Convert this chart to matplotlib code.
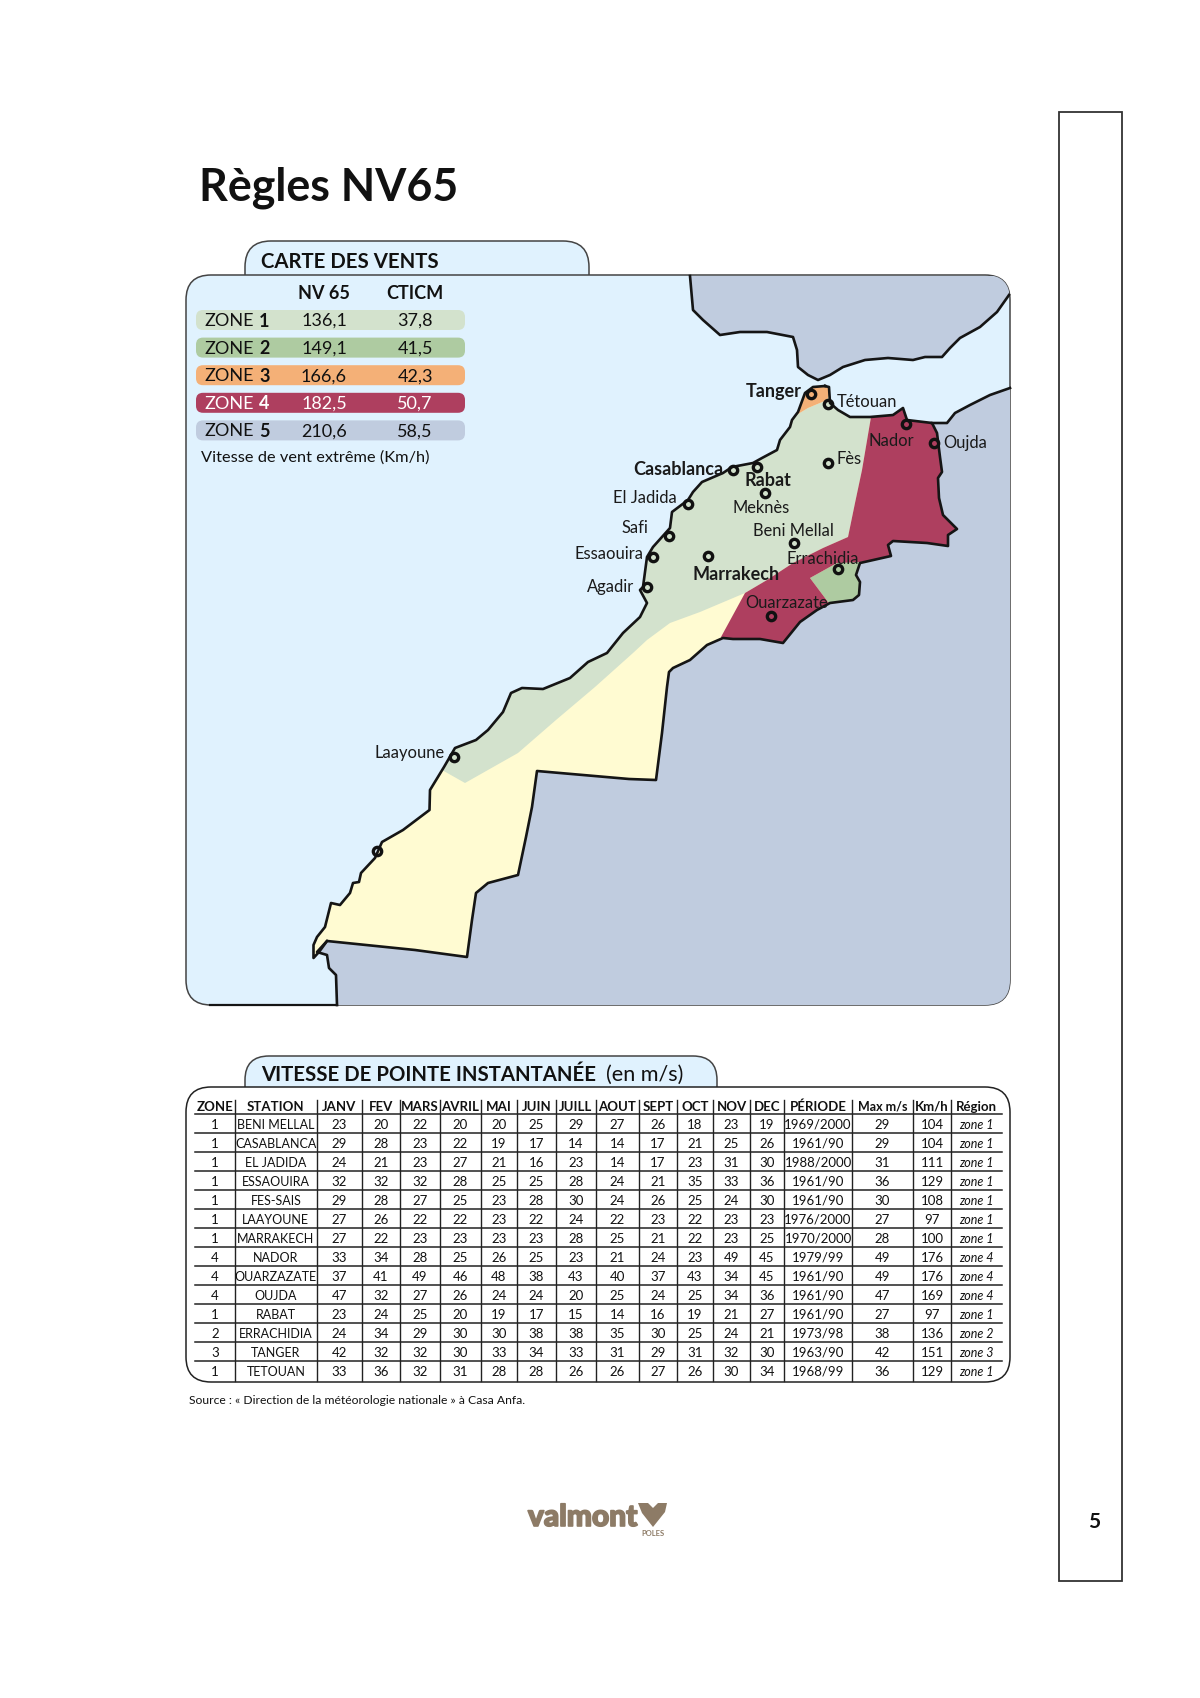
import matplotlib
matplotlib.use("Agg")
import matplotlib.pyplot as plt
import matplotlib.patheffects as pe
from matplotlib.patches import FancyBboxPatch, Polygon, Rectangle

FONT = "Lato"
plt.rcParams["font.family"] = [FONT, "DejaVu Sans"]

# ---------------- legend data ----------------
ZONE_NAMES = ["1", "2", "3", "4", "5"]
NV65 = ["136,1", "149,1", "166,6", "182,5", "210,6"]
CTICM = ["37,8", "41,5", "42,3", "50,7", "58,5"]
ZONE_COLORS = ["#D3E2CD", "#AECBA1", "#F4B077", "#AE3F5F", "#C0CCDF"]
ZONE_TEXT = ["#111111", "#111111", "#111111", "#FFFFFF", "#111111"]

# ---------------- table data ----------------
HEADERS = ["ZONE", "STATION", "JANV", "FEV", "MARS", "AVRIL", "MAI", "JUIN", "JUILL", "AOUT",
           "SEPT", "OCT", "NOV", "DEC", "PÉRIODE", "Max m/s", "Km/h", "Région"]
STATIONS = ["BENI MELLAL", "CASABLANCA", "EL JADIDA", "ESSAOUIRA", "FES-SAIS", "LAAYOUNE", "MARRAKECH",
            "NADOR", "OUARZAZATE", "OUJDA", "RABAT", "ERRACHIDIA", "TANGER", "TETOUAN"]
ZONES = [1, 1, 1, 1, 1, 1, 1, 4, 4, 4, 1, 2, 3, 1]
BENI_MELLAL = [23, 20, 22, 20, 20, 25, 29, 27, 26, 18, 23, 19]
CASABLANCA = [29, 28, 23, 22, 19, 17, 14, 14, 17, 21, 25, 26]
EL_JADIDA = [24, 21, 23, 27, 21, 16, 23, 14, 17, 23, 31, 30]
ESSAOUIRA = [32, 32, 32, 28, 25, 25, 28, 24, 21, 35, 33, 36]
FES_SAIS = [29, 28, 27, 25, 23, 28, 30, 24, 26, 25, 24, 30]
LAAYOUNE = [27, 26, 22, 22, 23, 22, 24, 22, 23, 22, 23, 23]
MARRAKECH = [27, 22, 23, 23, 23, 23, 28, 25, 21, 22, 23, 25]
NADOR = [33, 34, 28, 25, 26, 25, 23, 21, 24, 23, 49, 45]
OUARZAZATE = [37, 41, 49, 46, 48, 38, 43, 40, 37, 43, 34, 45]
OUJDA = [47, 32, 27, 26, 24, 24, 20, 25, 24, 25, 34, 36]
RABAT = [23, 24, 25, 20, 19, 17, 15, 14, 16, 19, 21, 27]
ERRACHIDIA = [24, 34, 29, 30, 30, 38, 38, 35, 30, 25, 24, 21]
TANGER = [42, 32, 32, 30, 33, 34, 33, 31, 29, 31, 32, 30]
TETOUAN = [33, 36, 32, 31, 28, 28, 26, 26, 27, 26, 30, 34]
MONTHLY = [BENI_MELLAL, CASABLANCA, EL_JADIDA, ESSAOUIRA, FES_SAIS, LAAYOUNE, MARRAKECH,
           NADOR, OUARZAZATE, OUJDA, RABAT, ERRACHIDIA, TANGER, TETOUAN]
PERIODS = ["1969/2000", "1961/90", "1988/2000", "1961/90", "1961/90", "1976/2000", "1970/2000",
           "1979/99", "1961/90", "1961/90", "1961/90", "1973/98", "1963/90", "1968/99"]
MAX_MS = [29, 29, 31, 36, 30, 27, 28, 49, 49, 47, 27, 38, 42, 36]
KMH = [104, 104, 111, 129, 108, 97, 100, 176, 176, 169, 97, 136, 151, 129]
COL_EDGES = [195, 235, 316.7, 362, 400, 440, 481, 516.7, 556, 596, 639, 677, 713, 750, 784, 852, 913, 951, 1002]

# ---------------- map outlines (page pixel coordinates) ----------------
SPAIN = [(690, 276), (693, 310), (703, 320), (720, 335), (740, 332), (767, 332), (793, 337), (797, 350),
         (798, 367), (808, 375), (818, 380), (830, 375), (843, 367), (865, 360), (888, 358), (913, 360),
         (925, 357), (942, 357), (950, 348), (960, 338), (980, 327), (997, 312), (1009, 295)]
COAST_ATL = [(825, 386), (813, 387), (805, 393), (798, 412), (792, 420), (790, 427), (780, 440), (777, 450),
             (762, 458), (753, 463), (732, 467), (723, 473), (702, 482), (693, 492), (688, 500), (672, 512),
             (670, 528), (653, 547), (647, 557), (643, 587), (640, 590), (647, 603), (640, 617), (623, 633),
             (607, 653), (588, 662), (570, 678), (543, 689), (522, 688), (511, 693), (503, 712), (488, 730),
             (476, 740), (455, 748), (444, 767), (430, 790), (429.5, 810), (403, 830), (382, 842), (375, 858),
             (361, 873), (359, 882), (353, 883), (350, 893), (340, 905), (331, 903), (325, 927), (317, 937),
             (313.5, 945), (313.5, 958), (319, 952)]
BORDER_S = [(327, 941), (415, 950), (467, 957), (472, 920), (476, 893), (488, 883), (518, 875),
            (526, 837), (532, 807), (537, 771), (629, 779), (656, 780), (662, 733), (667, 687), (669, 672),
            (673, 668), (690, 660), (707, 645), (723, 638), (733, 639), (760, 639), (783, 643), (800, 622),
            (817, 610), (830, 603), (853, 600), (859, 595), (860, 582), (856, 575), (860, 563), (891, 556),
            (888, 545), (893, 541), (927, 543), (948, 546), (948, 535), (957, 529), (943, 515),
            (939, 498), (938, 478), (942, 472), (940, 457), (937, 433), (932, 423)]
COAST_MED = [(932, 423), (907, 420), (903, 408), (893, 415), (870, 417), (850, 417), (838, 410), (830, 403),
             (829, 387), (825, 386)]
ALGERIA_COAST = [(1010, 388), (990, 395), (970, 405), (955, 413), (947, 423), (932, 423)]
MAURITANIA_SW = [(327, 941), (317, 952), (327, 955), (329, 968), (336, 975), (337, 1005)]
ZONE_1 = [(793, 417), (808, 408), (827, 400), (833, 407), (871, 417), (862, 470), (855, 503), (848, 537),
          (823, 548), (793, 563), (767, 580), (745, 593), (700, 612), (670, 623), (647, 640), (633, 653),
          (595, 687), (556, 720), (518, 753), (465, 783), (442, 770),
          (400, 740), (600, 600), (660, 420), (780, 380)]
ZONE_3 = [(793, 417), (808, 408), (827, 400), (835, 380), (803, 380), (780, 400)]
ZONE_4 = [(871, 417), (862, 470), (855, 503), (848, 537), (823, 548), (793, 563), (767, 580), (745, 593),
          (721, 637), (730, 660), (790, 660), (838, 615), (830, 605), (825, 598), (810, 578), (837, 563),
          (860, 562), (893, 557), (960, 550), (965, 527), (943, 410), (900, 400)]
ZONE_2 = [(810, 578), (837, 563), (862, 560), (875, 600), (855, 612), (830, 605), (825, 598)]

CITIES = ["Tanger", "Tétouan", "Nador", "Oujda", "Fès", "Casablanca", "Rabat", "Meknès", "El Jadida", "Safi",
          "Essaouira", "Marrakech", "Beni Mellal", "Errachidia", "Ouarzazate", "Agadir", "Laayoune", ""]
CITY_X = [811, 828, 906, 934, 828, 733, 757, 765, 688, 669, 653, 708, 794, 838, 771, 647, 454, 377]
CITY_Y = [394, 404, 424, 443, 463, 470, 467, 493, 504, 536, 557, 556, 543, 569, 616, 587, 757, 851]
LABEL_X = [746, 837, 868, 943, 837, 633, 744, 732, 613, 622, 574, 693, 753, 787, 745, 587, 375, 0]
LABEL_Y = [391, 402, 441, 443, 459, 469, 480, 508, 498, 528, 554, 575, 531, 559, 603, 587, 753, 0]
CITY_BOLD = [True, False, False, False, False, True, True, False, False, False, False, True, False, False, False,
             False, False, False]

LAND = "#C0CCDF"
OCEAN = "#E0F2FE"
YELLOW = "#FFFBD2"
INK = "#111111"
EDGE = "#444444"
LOGO = "#8D7B66"


def rounded(x0, y0, x1, y1, r, **kw):
    return FancyBboxPatch((x0, y0), x1 - x0, y1 - y0, boxstyle=f"round,pad=0,rounding_size={r}", **kw)


fig = plt.figure(figsize=(12, 16.98), dpi=100)
ax = fig.add_axes([0, 0, 1, 1])
ax.set_xlim(0, 1200)
ax.set_ylim(1698, 0)
ax.axis("off")

# page title and page box
ax.text(199, 200, "Règles NV65", fontsize=32.2, fontweight="bold", color=INK, va="baseline", ha="left")
ax.add_patch(Rectangle((1059, 112), 63, 1469, fc="white", ec="#333333", lw=1.3))
ax.text(1094, 1522, "5", fontsize=15, fontweight="bold", ha="center", va="center", color=INK)

# map panel
ax.add_patch(rounded(245, 241, 589, 300, 26, fc=OCEAN, ec=EDGE, lw=1.1, zorder=1))
panel = rounded(186, 275, 1010, 1005, 25, fc=OCEAN, ec=EDGE, lw=1.1, zorder=2)
ax.add_patch(panel)
ax.text(261, 262, "CARTE DES VENTS", fontsize=14.7, fontweight="bold", va="center", color=INK, zorder=3)

# land masses
north = Polygon(SPAIN + [(1009, 276)], closed=True, fc=LAND, ec="none", zorder=3)
ax.add_patch(north)
north.set_clip_path(panel)
south_pts = ALGERIA_COAST + BORDER_S[::-1] + MAURITANIA_SW[1:] + [(1010, 1005)]
south = Polygon(south_pts, closed=True, fc=LAND, ec="none", zorder=3)
ax.add_patch(south)
south.set_clip_path(panel)

morocco_pts = COAST_ATL + BORDER_S + COAST_MED
morocco = Polygon(morocco_pts, closed=True, fc=YELLOW, ec="none", zorder=4)
ax.add_patch(morocco)
for pts, col in ((ZONE_1, ZONE_COLORS[0]), (ZONE_2, ZONE_COLORS[1]), (ZONE_3, ZONE_COLORS[2]), (ZONE_4, ZONE_COLORS[3])):
    p = Polygon(pts, closed=True, fc=col, ec="none", zorder=5)
    ax.add_patch(p)
    p.set_clip_path(morocco)

for pts in (SPAIN, morocco_pts + morocco_pts[:1], ALGERIA_COAST, MAURITANIA_SW):
    xs, ys = zip(*pts)
    ax.plot(xs, ys, color="#151515", lw=1.9, solid_joinstyle="round", zorder=6)
ax.plot([210, 337], [1005, 1005], color="#151515", lw=1.6, zorder=6)

# cities
ax.plot(CITY_X, CITY_Y, ls="none", marker="o", ms=6.0, mfc="none", mec="#111111", mew=2.4, zorder=7)
for name, lx, ly, bold in zip(CITIES, LABEL_X, LABEL_Y, CITY_BOLD):
    if name:
        ax.text(lx, ly, name, fontsize=13 if bold else 11.9, fontweight="bold" if bold else "normal", va="center",
                ha="left", color="#1a1a1a", zorder=8)

# legend
ax.text(324, 293, "NV 65", fontsize=13, fontweight="bold", ha="center", va="center", color=INK, zorder=8)
ax.text(415, 293, "CTICM", fontsize=13, fontweight="bold", ha="center", va="center", color=INK, zorder=8)
for i, (zn, nv, ct, col, tc) in enumerate(zip(ZONE_NAMES, NV65, CTICM, ZONE_COLORS, ZONE_TEXT)):
    y0 = 310 + i * 27.6
    yc = y0 + 11
    ax.add_patch(rounded(196, y0, 465, y0 + 20, 7, fc=col, ec="none", zorder=7))
    ax.text(204, yc, "ZONE", fontsize=13, va="center", color=tc, zorder=8)
    ax.text(259, yc, zn, fontsize=13, fontweight="bold", va="center", color=tc, zorder=8)
    ax.text(324, yc, nv, fontsize=13, va="center", ha="center", color=tc, zorder=8)
    ax.text(415, yc, ct, fontsize=13, va="center", ha="center", color=tc, zorder=8)
ax.text(201, 458, "Vitesse de vent extrême (Km/h)", fontsize=11.8, va="center", color=INK, zorder=8)

# table panel
ax.add_patch(rounded(245, 1056, 717, 1110, 24, fc=OCEAN, ec=EDGE, lw=1.1, zorder=1))
ax.add_patch(rounded(186, 1087, 1010, 1382, 25, fc="white", ec="#222222", lw=1.1, zorder=2))
ax.text(261, 1075, "VITESSE DE POINTE INSTANTANÉE", fontsize=14.7, fontweight="bold", va="center", color=INK, zorder=3)
ax.text(606, 1075, "(en m/s)", fontsize=15.6, va="center", color=INK, zorder=3)

ROW_TOP = 1114.3
ROW_H = 19.0
centers = [(a + b) / 2 for a, b in zip(COL_EDGES[:-1], COL_EDGES[1:])]
for j, name in enumerate(HEADERS):
    ax.text(centers[j], ROW_TOP - 7.5, name, fontsize=9.5 if j != 15 else 9, fontweight="bold", ha="center",
            va="center", color=INK, zorder=4)
for e in COL_EDGES[1:-1]:
    ax.plot([e, e], [1100, 1381], color="#222222", lw=1.0, zorder=3)
for i in range(14):
    y = ROW_TOP + i * ROW_H
    ax.plot([COL_EDGES[0], COL_EDGES[-1]], [y, y], color="#222222", lw=1.1, zorder=3)
    yc = y + ROW_H / 2 + 1
    row = [ZONES[i], STATIONS[i]] + MONTHLY[i] + [PERIODS[i], MAX_MS[i], KMH[i]]
    for j, v in enumerate(row):
        ax.text(centers[j], yc, str(v), fontsize=9.5 if j != 1 else 9, ha="center", va="center", color=INK, zorder=4)
    ax.text(centers[17], yc, f"zone {ZONES[i]}", fontsize=9, style="italic", ha="center", va="center", color=INK, zorder=4)

ax.text(189, 1400, "Source : « Direction de la météorologie nationale » à Casa Anfa.", fontsize=8.7, va="center", color=INK)

# logo
ax.text(528, 1517, "valmont", fontsize=21.5, fontweight="black", color=LOGO, va="center", ha="left",
        path_effects=[pe.withStroke(linewidth=1.2, foreground=LOGO)])
HEART = [(638, 1503), (648, 1503), (653, 1508), (658, 1503), (667, 1503), (665, 1512), (653, 1527), (642, 1513)]
ax.add_patch(Polygon(HEART, closed=True, fc=LOGO, ec="none"))
ax.text(653, 1533, "POLES", fontsize=5.5, fontweight="bold", color=LOGO, ha="center", va="center")

fig.savefig("out.png", dpi=100)
